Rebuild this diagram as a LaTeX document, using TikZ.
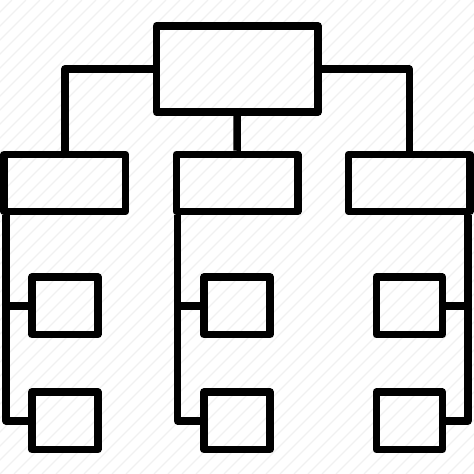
\documentclass[tikz,border=0pt]{standalone}
\begin{document}
\begin{tikzpicture}[x=1pt,y=1pt,yscale=-1,xscale=1,
  box/.style={draw,line width=7.5pt,line join=round,inner sep=0pt,minimum width=121.5pt,minimum height=57pt},
  topbox/.style={box,minimum width=161.5pt,minimum height=86pt},
  leafbox/.style={box,minimum width=66pt,minimum height=57.5pt},
  link/.style={line width=7.5pt,line join=round},
  hatch/.style={gray!11,line width=1.2pt}]
\useasboundingbox (0,0) rectangle (474,474);

% faint background stripes
\begin{scope}
\clip (0,0) rectangle (474,474);
\foreach \i in {-476,-462,...,474} \draw [hatch] (\i,474) -- ++(474,-474);
\end{scope}

% top box
\node [topbox] (chief) at (237.25,69) {};

% second level
\node [box] (left) at (64.75,183) {};
\node [box] (mid) at (237,183) {};
\node [box] (right) at (409.25,183) {};

% leaves
\node [leafbox] (left1) at (64.75,305.75) {};
\node [leafbox] (left2) at (64.75,420.75) {};
\node [leafbox] (mid1) at (237,305.75) {};
\node [leafbox] (mid2) at (237,420.75) {};
\node [leafbox] (right1) at (409.25,305.75) {};
\node [leafbox] (right2) at (409.25,420.75) {};

% links from the top box
\draw [link] (chief.west) -| (left.north);
\draw [link] (chief.east) -| (right.north);
\draw [link] (chief.south) -- (mid.north);

% buses down to the leaves
\coordinate (leftbus) at ([xshift=5.5pt]left.south west);
\coordinate (midbus) at ([xshift=5pt]mid.south west);
\coordinate (rightbus) at ([xshift=-6pt]right.south east);

\draw [link] (leftbus) |- (left2.west);
\draw [link] (left1.west) -- (left1.west -| leftbus);
\draw [link] (midbus) |- (mid2.west);
\draw [link] (mid1.west) -- (mid1.west -| midbus);
\draw [link] (rightbus) |- (right2.east);
\draw [link] (right1.east) -- (right1.east -| rightbus);

\end{tikzpicture}
\end{document}
